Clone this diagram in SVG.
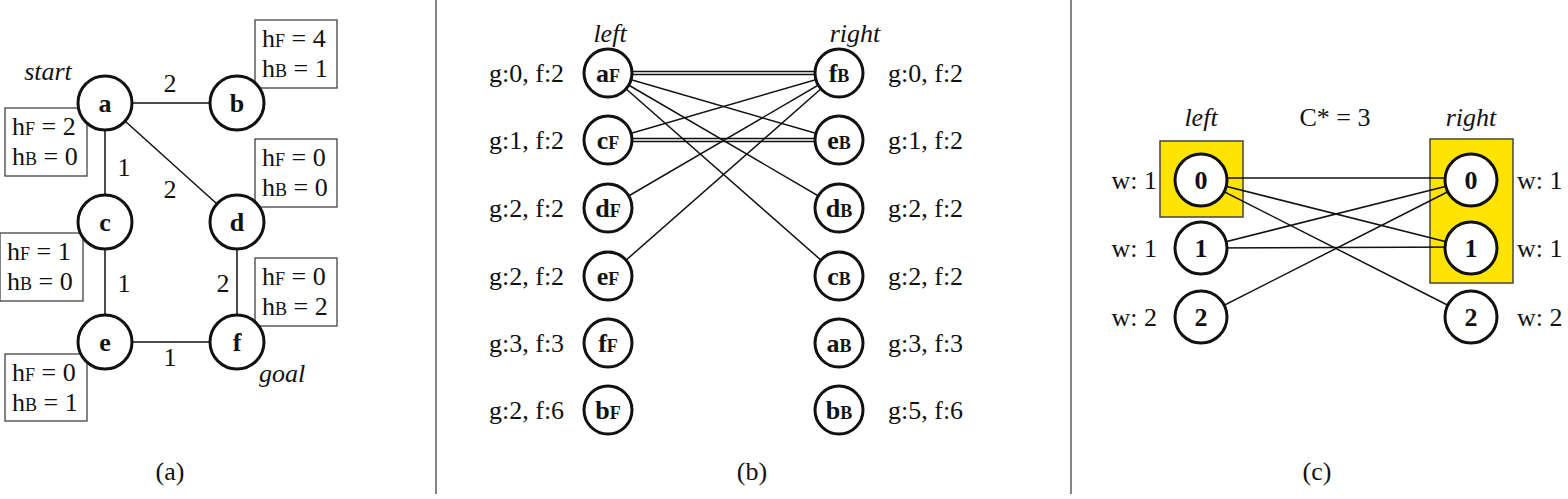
<svg xmlns="http://www.w3.org/2000/svg" width="1568" height="499" viewBox="0 0 1568 499" font-family="'Liberation Serif', 'Times New Roman', serif">
<style>
text{font-family:'Liberation Serif','Times New Roman',serif;fill:#111}
.n{fill:#fff;stroke:#111;stroke-width:3}
.nl{font-weight:bold;font-size:26px;text-anchor:middle}
.t{font-size:26px}
.i{font-style:italic;font-size:26px}
.hb{fill:#fff;stroke:#333;stroke-width:1.2}
.e{stroke:#111;stroke-width:1.5;fill:none}
.sub{font-size:18px}
.y{fill:#FFE400;stroke:#444;stroke-width:1.5}
</style>
<rect width="1568" height="499" fill="#fff"/>
<g id="dividers"><line x1="436" y1="0" x2="436" y2="494" stroke="#333" stroke-width="1.2"/><line x1="1071" y1="0" x2="1071" y2="494" stroke="#333" stroke-width="1.2"/></g>

<g id="connectors-a">
<line x1="105" y1="103" x2="237" y2="103" class="e" stroke-width="2"/>
<line x1="105" y1="103" x2="105" y2="222" class="e" stroke-width="2"/>
<line x1="105" y1="103" x2="237" y2="222" class="e"/>
<line x1="105" y1="222" x2="105" y2="342" class="e" stroke-width="2"/>
<line x1="237" y1="222" x2="237" y2="342" class="e" stroke-width="2"/>
<line x1="105" y1="342" x2="237" y2="342" class="e" stroke-width="2"/>
</g>
<g id="edge-labels-a">
<text x="170" y="92" text-anchor="middle" class="t">2</text>
<text x="124" y="176" text-anchor="middle" class="t">1</text>
<text x="170" y="198" text-anchor="middle" class="t">2</text>
<text x="124" y="292" text-anchor="middle" class="t">1</text>
<text x="223" y="292" text-anchor="middle" class="t">2</text>
<text x="170" y="366" text-anchor="middle" class="t">1</text>
<text x="48" y="80" text-anchor="middle" class="i">start</text>
<text x="282" y="382" text-anchor="middle" class="i">goal</text>
<text x="170" y="480" text-anchor="middle" class="t">(a)</text>
</g>
<g id="h-b"><rect x="255" y="20" width="82" height="68" class="hb"/><text x="262" y="47" class="t">h<tspan class="sub">F</tspan> = 4</text><text x="262" y="77" class="t">h<tspan class="sub">B</tspan> = 1</text></g>
<g id="h-a"><rect x="5" y="108" width="82" height="68" class="hb"/><text x="12" y="135" class="t">h<tspan class="sub">F</tspan> = 2</text><text x="12" y="165" class="t">h<tspan class="sub">B</tspan> = 0</text></g>
<g id="h-d"><rect x="255" y="139" width="82" height="68" class="hb"/><text x="262" y="166" class="t">h<tspan class="sub">F</tspan> = 0</text><text x="262" y="196" class="t">h<tspan class="sub">B</tspan> = 0</text></g>
<g id="h-c"><rect x="0" y="233" width="83" height="68" class="hb"/><text x="7" y="260" class="t">h<tspan class="sub">F</tspan> = 1</text><text x="7" y="290" class="t">h<tspan class="sub">B</tspan> = 0</text></g>
<g id="h-f"><rect x="255" y="258" width="82" height="68" class="hb"/><text x="262" y="285" class="t">h<tspan class="sub">F</tspan> = 0</text><text x="262" y="315" class="t">h<tspan class="sub">B</tspan> = 2</text></g>
<g id="h-e"><rect x="5" y="354" width="82" height="67" class="hb"/><text x="12" y="381" class="t">h<tspan class="sub">F</tspan> = 0</text><text x="12" y="411" class="t">h<tspan class="sub">B</tspan> = 1</text></g>
<g id="a"><circle cx="105" cy="103" r="27" class="n"/><text x="105" y="112" class="nl">a</text></g>
<g id="b"><circle cx="237" cy="103" r="27" class="n"/><text x="237" y="112" class="nl">b</text></g>
<g id="c"><circle cx="105" cy="222" r="27" class="n"/><text x="105" y="231" class="nl">c</text></g>
<g id="d"><circle cx="237" cy="222" r="27" class="n"/><text x="237" y="231" class="nl">d</text></g>
<g id="e"><circle cx="105" cy="342" r="27" class="n"/><text x="105" y="351" class="nl">e</text></g>
<g id="f"><circle cx="237" cy="342" r="27" class="n"/><text x="237" y="351" class="nl">f</text></g>

<g id="connectors-b" class="e">
<line x1="608" y1="71.5" x2="839" y2="71.5"/><line x1="608" y1="74.5" x2="839" y2="74.5"/>
<line x1="608" y1="73" x2="839" y2="140"/>
<line x1="608" y1="73" x2="839" y2="208"/>
<line x1="608" y1="73" x2="839" y2="276"/>
<line x1="608" y1="138.5" x2="839" y2="138.5"/><line x1="608" y1="141.5" x2="839" y2="141.5"/>
<line x1="608" y1="140" x2="839" y2="73"/>
<line x1="608" y1="208" x2="839" y2="73"/>
<line x1="608" y1="276" x2="839" y2="73"/>
</g>
<g id="labels-b">
<text x="610" y="42" text-anchor="middle" class="i">left</text>
<text x="855" y="42" text-anchor="middle" class="i">right</text>
<text x="752" y="480" text-anchor="middle" class="t">(b)</text>
<text x="489" y="82" class="t">g:0, f:2</text><text x="489" y="149" class="t">g:1, f:2</text><text x="489" y="217" class="t">g:2, f:2</text><text x="489" y="285" class="t">g:2, f:2</text><text x="489" y="352" class="t">g:3, f:3</text><text x="489" y="419" class="t">g:2, f:6</text>
<text x="888" y="82" class="t">g:0, f:2</text><text x="888" y="149" class="t">g:1, f:2</text><text x="888" y="217" class="t">g:2, f:2</text><text x="888" y="285" class="t">g:2, f:2</text><text x="888" y="352" class="t">g:3, f:3</text><text x="888" y="419" class="t">g:5, f:6</text>
</g>
<g id="aF"><circle cx="608" cy="73" r="24" class="n"/><text x="608" y="82" class="nl">a<tspan class="sub">F</tspan></text></g>
<g id="cF"><circle cx="608" cy="140" r="24" class="n"/><text x="608" y="149" class="nl">c<tspan class="sub">F</tspan></text></g>
<g id="dF"><circle cx="608" cy="208" r="24" class="n"/><text x="608" y="217" class="nl">d<tspan class="sub">F</tspan></text></g>
<g id="eF"><circle cx="608" cy="276" r="24" class="n"/><text x="608" y="285" class="nl">e<tspan class="sub">F</tspan></text></g>
<g id="fF"><circle cx="608" cy="343" r="24" class="n"/><text x="608" y="352" class="nl">f<tspan class="sub">F</tspan></text></g>
<g id="bF"><circle cx="608" cy="410" r="24" class="n"/><text x="608" y="419" class="nl">b<tspan class="sub">F</tspan></text></g>
<g id="fB"><circle cx="839" cy="73" r="24" class="n"/><text x="839" y="82" class="nl">f<tspan class="sub">B</tspan></text></g>
<g id="eB"><circle cx="839" cy="140" r="24" class="n"/><text x="839" y="149" class="nl">e<tspan class="sub">B</tspan></text></g>
<g id="dB"><circle cx="839" cy="208" r="24" class="n"/><text x="839" y="217" class="nl">d<tspan class="sub">B</tspan></text></g>
<g id="cB"><circle cx="839" cy="276" r="24" class="n"/><text x="839" y="285" class="nl">c<tspan class="sub">B</tspan></text></g>
<g id="aB"><circle cx="839" cy="343" r="24" class="n"/><text x="839" y="352" class="nl">a<tspan class="sub">B</tspan></text></g>
<g id="bB"><circle cx="839" cy="410" r="24" class="n"/><text x="839" y="419" class="nl">b<tspan class="sub">B</tspan></text></g>

<g id="boxes-c"><rect x="1160" y="141" width="83" height="76" class="y"/><rect x="1430" y="139" width="83" height="144" class="y"/></g>
<g id="connectors-c" class="e">
<line x1="1201" y1="178" x2="1471" y2="178"/>
<line x1="1201" y1="180" x2="1471" y2="248"/>
<line x1="1201" y1="180" x2="1471" y2="317"/>
<line x1="1201" y1="248" x2="1471" y2="180"/>
<line x1="1201" y1="248" x2="1471" y2="247"/>
<line x1="1201" y1="317" x2="1471" y2="180"/>
</g>
<g id="labels-c">
<text x="1201" y="126" text-anchor="middle" class="i">left</text>
<text x="1335" y="126" text-anchor="middle" class="t">C* = 3</text>
<text x="1471" y="126" text-anchor="middle" class="i">right</text>
<text x="1157" y="189" text-anchor="end" class="t">w: 1</text>
<text x="1157" y="257" text-anchor="end" class="t">w: 1</text>
<text x="1157" y="326" text-anchor="end" class="t">w: 2</text>
<text x="1517" y="189" class="t">w: 1</text>
<text x="1517" y="257" class="t">w: 1</text>
<text x="1517" y="326" class="t">w: 2</text>
<text x="1317" y="480" text-anchor="middle" class="t">(c)</text>
</g>
<g id="L0"><circle cx="1201" cy="180" r="26" class="n"/><text x="1201" y="189" class="nl">0</text></g>
<g id="L1"><circle cx="1201" cy="248" r="26" class="n"/><text x="1201" y="257" class="nl">1</text></g>
<g id="L2"><circle cx="1201" cy="317" r="26" class="n"/><text x="1201" y="326" class="nl">2</text></g>
<g id="R0"><circle cx="1471" cy="180" r="26" class="n"/><text x="1471" y="189" class="nl">0</text></g>
<g id="R1"><circle cx="1471" cy="248" r="26" class="n"/><text x="1471" y="257" class="nl">1</text></g>
<g id="R2"><circle cx="1471" cy="317" r="26" class="n"/><text x="1471" y="326" class="nl">2</text></g>
</svg>
